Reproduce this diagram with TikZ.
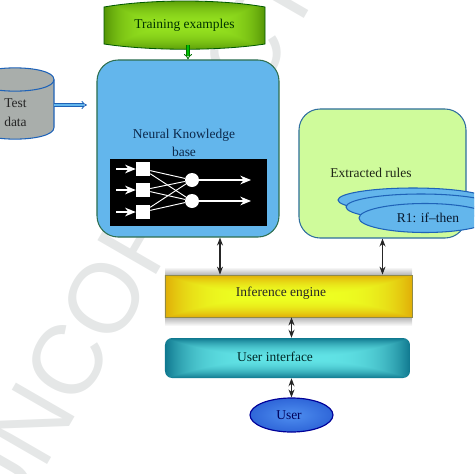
\documentclass[tikz,border=0pt]{standalone}
\usepackage{fontspec}
\setmainfont{Liberation Serif}
\newfontfamily\marksans{Liberation Sans}
\usetikzlibrary{arrows.meta,positioning,shapes.geometric}
\definecolor{Sky}{HTML}{63B6EC}
\definecolor{Moss}{HTML}{2F6F4F}
\definecolor{Lime}{HTML}{CFFB9B}
\definecolor{Steel}{HTML}{2F6E9E}
\definecolor{Royal}{HTML}{1F63B8}
\definecolor{Stone}{HTML}{A9AEAB}
\definecolor{Ghost}{HTML}{E5E7E7}
\definecolor{UserIn}{HTML}{4F8FF0}
\definecolor{UserOut}{HTML}{2F66D8}
% mitred glow: centre colour r g b, plus the step towards the edge colour
\newcommand{\declareglow}[7]{\pgfdeclarefunctionalshading{#1}{\pgfpoint{-50bp}{-50bp}}{\pgfpoint{50bp}{50bp}}{}{
 abs 25 div dup mul exch abs 25 div dup mul dup mul 2 copy gt {pop} {exch pop} ifelse
 dup #5 mul #2 add exch dup #6 mul #3 add exch #7 mul #4 add}}
\declareglow{yellowglow}{0.93}{1.0}{0.13}{-0.05}{-0.32}{-0.1}
\declareglow{tealglow}{0.38}{0.89}{0.90}{-0.32}{-0.42}{-0.34}
\declareglow{greenglow}{0.58}{0.88}{0.12}{-0.25}{-0.30}{-0.10}
\begin{document}
\begin{tikzpicture}[x=0.03cm,y=-0.03cm,
 label/.style={font=\fontsize{11.5}{16}\selectfont,inner sep=0pt,align=center},
 block/.style={rounded corners=18pt,line width=0.9pt},
 syncarrow/.style={{Stealth[length=2.4mm,width=1.8mm]}-{Stealth[length=2.4mm,width=1.8mm]},line width=0.9pt,draw=black!85},
 hollow/.style={-{Implies},double,double distance=1.6pt,line width=0.7pt},
 unit/.style={fill=white,minimum size=0.42cm,inner sep=0pt},
 neuron/.style={circle,fill=white,minimum size=0.42cm,inner sep=0pt},
 wire/.style={draw=white,line width=0.8pt},
 signal/.style={-{Stealth[length=3.2mm,width=2.6mm,inset=1mm]},draw=white,line width=1pt},
 rulesheet/.style={ellipse,draw=Royal,fill=Sky,line width=0.9pt,inner sep=0pt}]
 \useasboundingbox (0,0) rectangle (474,474);
 \clip (0,0) rectangle (474,474);
 \node[rotate=60,text=Ghost,inner sep=0pt,font=\marksans\fontsize{84}{84}\selectfont](watermark) at (169.5,184.5){UNCORRECTED};
 % knowledge base and rule store
 \node[block,draw=Moss,fill=Sky,minimum width=5.46cm,minimum height=5.31cm](kb) at (188,148.5){};
 \node[block,draw=Steel,fill=Lime,minimum width=5.01cm,minimum height=3.87cm](rules) at (382.5,173.5){};
 \node[label,text=black!85!Lime](ruleslabel) at (371,173){Extracted rules};
 \node[rulesheet,minimum width=4.5cm,minimum height=0.72cm](sheetc) at (413,200){};
 \node[rulesheet,minimum width=4.5cm,minimum height=0.78cm](sheetb) at (421,207){};
 \node[rulesheet,minimum width=3.96cm,minimum height=0.87cm](sheeta) at (425,218){};
 \node[label,text=black!75!Royal](sheetlabel) at (428,218){R1: if--then};
 \node[label,text=Royal!40!black](kblabel) at (184,143){Neural Knowledge\\base};
 % training examples
 \shade[shading=greenglow,draw=green!35!black,line width=0.7pt]
  (104,7) .. controls (150,-1) and (220,-1) .. (265,7) -- (265,44) .. controls (220,51) and (150,51) .. (104,44) -- cycle;
 \node[label,text=black!80!green,minimum width=4.83cm,minimum height=1.2cm](training) at (184.5,25){Training examples};
 % test data
 \filldraw[draw=Royal,fill=Stone,line width=0.9pt] (-24,79.5) .. controls (-24,64) and (54,64) .. (54,79.5) -- (54,127.5)
  .. controls (54,143) and (-24,143) .. (-24,127.5) -- cycle;
 \draw[draw=Royal,line width=0.9pt] (-24,79.5) .. controls (-24,95) and (54,95) .. (54,79.5);
 \coordinate (testtail) at (54,105);
 \coordinate (testhead) at (87,105);
 \node[label,align=left,text=black!85](testlabel) at (15.5,113){Test\\data};
 \coordinate (kbport) at (220,0);
 % neural net
 \node[fill=black,minimum width=4.71cm,minimum height=2.01cm,inner sep=0pt](netbox) at (188.5,192.5){};
 \foreach \i/\y in {1/169,2/190,3/212}{
  \node[unit](in\i) at (143,\y){};
  \coordinate (tail\i) at (116,\y);
  \draw[signal] (tail\i) -- (in\i);
 }
 \foreach \j/\y in {1/180,2/201}{
  \node[neuron](out\j) at (192,\y){};
  \coordinate (end\j) at (251,\y-1);
  \draw[signal] (out\j) -- (end\j |- out\j);
  \foreach \i in {1,2,3}{\draw[wire] (in\i) -- (out\j);}
 }
 % lower stack
 \shade[top color=white,bottom color=black!30] (165,267) rectangle (412,275);
 \shade[top color=black!30,bottom color=white] (165,317) rectangle (412,326);
 \node[shade,shading=yellowglow,draw=yellow!50!black,line width=0.7pt,minimum width=7.41cm,minimum height=1.26cm](inference) at (288.5,296){};
 \node[label,text=black!85] (inferencelabel) at (281,293){Inference engine};
 \node[rounded corners=6pt,shade,shading=tealglow,minimum width=7.35cm,minimum height=1.2cm](ui) at (287.5,358){};
 \node[label,text=black!70!teal] (uilabel) at (275,357){User interface};
 \node[ellipse,draw=blue!60!black,line width=1pt,inner color=UserIn,outer color=UserOut,minimum width=2.49cm,minimum height=1.02cm,inner sep=0pt](user) at (291.5,415){};
 \node[label,text=blue!35!black] (userlabel) at (289,415){User};
 % connectors
 \draw[hollow,draw=Royal,double=Sky] (testtail) -- (testhead);
 \draw[hollow,draw=green!45!black,double=green!75!black] (training.south -| kb.north) -- (kb.north);
 \draw[syncarrow] (kb.south -| kbport) -- (inference.north -| kbport);
 \draw[syncarrow] (rules.south) -- (inference.north -| rules.south);
 \draw[syncarrow] (inference.south -| user.north) -- (ui.north -| user.north);
 \draw[syncarrow] (ui.south -| user.north) -- (user.north);
\end{tikzpicture}
\end{document}
